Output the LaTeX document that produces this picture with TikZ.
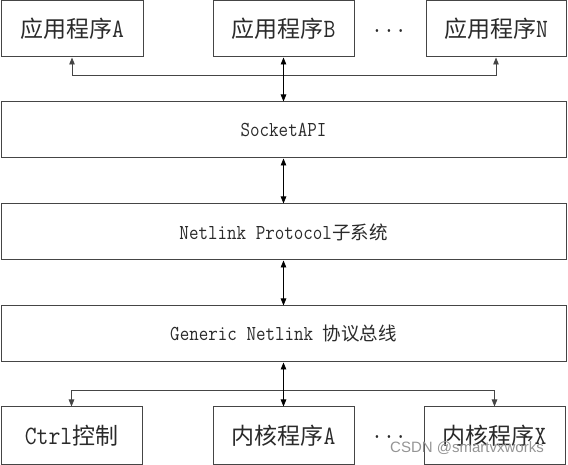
\documentclass[tikz,border=0pt]{standalone}
\usepackage{fontspec}
\setmonofont{Latin Modern Mono}[Scale=1.15, FakeStretch=0.87]
\newfontfamily\cjk{Noto Sans CJK SC}
\newfontfamily\wmfont{Liberation Sans}
\usetikzlibrary{arrows.meta}
\definecolor{edge}{HTML}{454545}
\definecolor{txt}{HTML}{2A2A2A}
\begin{document}
\begin{tikzpicture}[x=1pt,y=1pt,
  box/.style={draw=edge, line width=1pt, inner sep=0pt, text=txt},
  bigtext/.style={font=\ttfamily\fontsize{23}{23}\selectfont},
  midtext/.style={font=\ttfamily\fontsize{18.5}{18.5}\selectfont},
  conn/.style={draw=edge, line width=0.9pt},
  tip/.style={-{Triangle[length=7pt,width=5.5pt]}},
  dtip/.style={{Triangle[length=7pt,width=5.5pt]}-{Triangle[length=7pt,width=5.5pt]}}
]
\useasboundingbox (0,0) rectangle (568,465);
% top row
\node[box,bigtext,minimum width=142pt,minimum height=56pt] (A) at (72,436) {{\cjk 应用程序}A};
\node[box,bigtext,minimum width=141pt,minimum height=56pt] (B) at (283.5,436) {{\cjk 应用程序}B};
\node[box,bigtext,minimum width=140pt,minimum height=56pt] (N) at (496,436) {{\cjk 应用程序}N};
\node[bigtext,text=txt,inner sep=0pt] (dots1) at (389,434) {...};
% layers
\node[box,midtext,minimum width=565pt,minimum height=56pt] (S) at (283.5,335) {SocketAPI};
\node[box,midtext,minimum width=565pt,minimum height=56pt] (P) at (283.5,233) {Netlink Protocol{\cjk 子系统}};
\node[box,midtext,minimum width=565pt,minimum height=56pt] (G) at (283.5,131) {Generic Netlink {\cjk 协议总线}};
% bottom row
\node[box,bigtext,minimum width=141pt,minimum height=58pt] (C) at (71.5,29) {Ctrl{\cjk 控制}};
\node[box,bigtext,minimum width=141pt,minimum height=58pt] (KA) at (283.5,29) {{\cjk 内核程序}A};
\node[box,bigtext,minimum width=141pt,minimum height=58pt] (KX) at (494.5,29) {{\cjk 内核程序}X};
\node[bigtext,text=txt,inner sep=0pt] (dots2) at (389,28) {...};
% connectors top
\coordinate (topbus) at (283.5,390);
\draw[conn,tip] (topbus) -| (A.south);
\draw[conn,tip] (topbus) -| (N.south);
\draw[conn,dtip,draw=black] (S.north) -- (B.south);
% middle
\draw[conn,dtip,draw=black] (S.south) -- (P.north);
\draw[conn,dtip,draw=black] (P.south) -- (G.north);
% bottom
\coordinate (botbus) at (283.5,75);
\draw[conn,tip] (botbus) -| (C.north);
\draw[conn,tip] (botbus) -| (KX.north);
\draw[conn,dtip,draw=black] (G.south) -- (KA.north);
% watermark
\node[font=\wmfont\fontsize{15}{15}\selectfont, text=black!42, inner sep=0pt] (wm) at (467,17) {CSDN @smartvxworks};
\end{tikzpicture}
\end{document}
